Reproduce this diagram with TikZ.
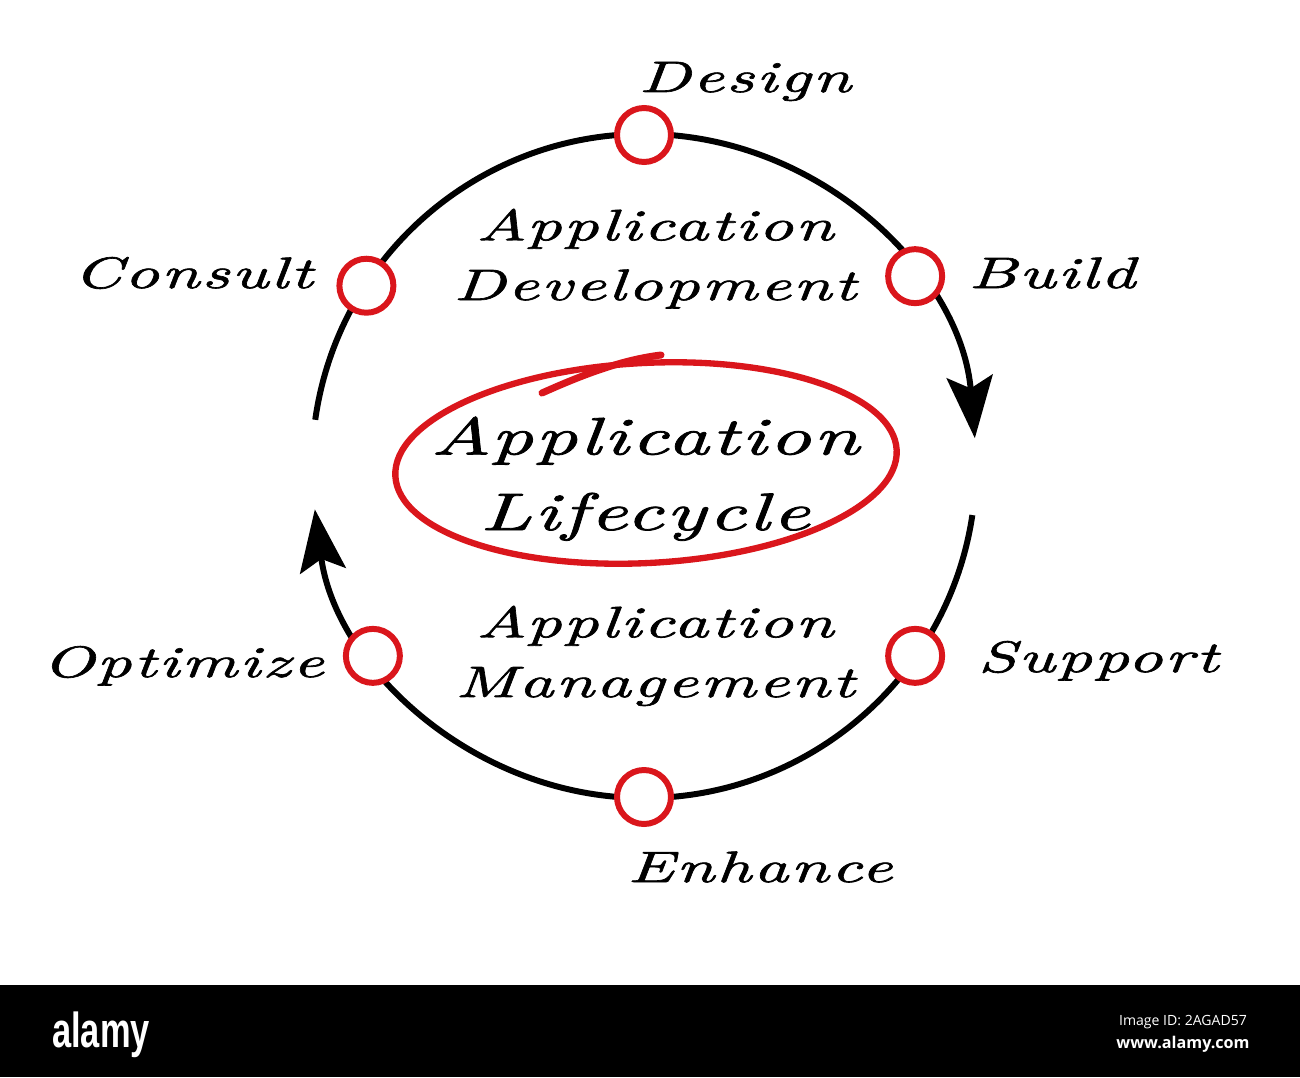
\documentclass[tikz,border=0pt]{standalone}
\usepackage{fontspec}
\newfontfamily\handfont{lmroman10-italic.otf}[FakeStretch=1.55,LetterSpace=5,FakeBold=1.5]
\newfontfamily\brandfont{Liberation Sans}[FakeStretch=0.7]
\newfontfamily\idfont{Open Sans}
\usetikzlibrary{arrows.meta}
\definecolor{markred}{RGB}{218,22,28}
\tikzset{
    ring/.style={line width=1.7pt, black},
    marker/.style={circle, draw=markred, line width=1.7pt, fill=white,
        minimum size=0.54cm, inner sep=0pt},
    stage/.style={font=\handfont\fontsize{12.5}{17}\selectfont, anchor=base},
    phase/.style={stage, align=center},
    title/.style={font=\handfont\fontsize{15}{21.5}\selectfont, anchor=base, align=center},
    bigarrow/.style={-{Stealth[length=0.62cm,width=0.46cm,inset=0.12cm]}}
}
\begin{document}
\begin{tikzpicture}
    \useasboundingbox (0,0) rectangle (13,-10.77);
    \coordinate (C) at (6.44,-4.66);

    % Kreis in zwei Boegen
    \coordinate (topstart) at ([shift={(172:3.32)}]C);
    \coordinate (lowstart) at ([shift={(-8.5:3.32)}]C);
    \draw[ring, bigarrow] (topstart) arc[start angle=172, end angle=4.8, radius=3.32];
    \draw[ring, bigarrow] (lowstart) arc[start angle=-8.5, end angle=-172.5, radius=3.32];

    % Stationen
    \node[marker] (design)   at ([shift={(90:3.31)}]C) {};
    \node[marker] (build)    at ([shift={(35:3.31)}]C) {};
    \node[marker] (support)  at ([shift={(-35:3.31)}]C) {};
    \node[marker] (enhance)  at ([shift={(-90:3.31)}]C) {};
    \node[marker] (optimize) at ([shift={(215:3.31)}]C) {};
    \node[marker] (consult)  at ([shift={(147:3.31)}]C) {};

    \node[stage] (designtxt)   at (7.45,-0.92) {Design};
    \node[stage] (buildtxt)    at (10.52,-2.88) {Build};
    \node[stage] (consulttxt)  at (1.93,-2.88) {Consult};
    \node[stage] (supporttxt)  at (10.98,-6.72) {Support};
    \node[stage] (optimizetxt) at (1.83,-6.77) {Optimize};
    \node[stage] (enhancetxt)  at (7.60,-8.82) {Enhance};

    \node[phase] (devtxt)  at (6.55,-3.00) {Application\\Development};
    \node[phase] (mgmttxt) at (6.55,-6.97) {Application\\Management};

    % Mitte mit rotem Kringel
    \draw[markred, line width=1.8pt, rotate around={3:(6.46,-4.63)}]
        (6.46,-4.63) ellipse[x radius=2.51, y radius=1.0];
    \draw[markred, line width=2pt, line cap=round]
        (5.42,-3.93) .. controls (5.80,-3.76) and (6.20,-3.60) .. (6.61,-3.55);
    \node[title] (lifetxt) at (6.45,-5.30) {Application\\Lifecycle};

    % Balken unten
    \fill[black] (0,-9.85) rectangle (13,-10.77);
    \node[font=\brandfont\bfseries\fontsize{14}{16}\selectfont, text=white, anchor=base]
        (brand) at (1.01,-10.47) {alamy};
    \node[font=\idfont\fontsize{4}{5}\selectfont, text=white, anchor=base]
        (imgid) at (11.83,-10.25) {Image ID: 2AGAD57};
    \node[font=\idfont\bfseries\fontsize{4.6}{5}\selectfont, text=white, anchor=base]
        (site) at (11.83,-10.48) {www.alamy.com};
\end{tikzpicture}
\end{document}
